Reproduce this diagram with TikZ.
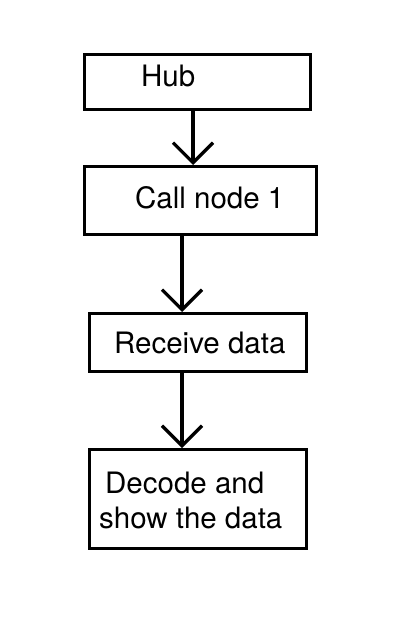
\documentclass[tikz,border=0pt]{standalone}
\usepackage{fontspec}
\setmainfont{TeX Gyre Heros}
\usetikzlibrary{arrows.meta}
\begin{document}
\begin{tikzpicture}[x=1bp,y=-1bp,
  box/.style={draw=black,line width=3.2bp,minimum width=#1,inner sep=0pt,anchor=north west},
  txt/.style={anchor=base west,inner sep=0pt,font=\fontsize{29.6}{35}\selectfont},
  arr/.style={line width=3.2bp,-{Straight Barb[length=20bp,width=40bp,line width=3.2bp]}}]
\useasboundingbox (0,0) rectangle (400,619);
\node[box=226bp,minimum height=55bp] (hub) at (83,53) {};
\node[box=232bp,minimum height=68bp] (call) at (83,165) {};
\node[box=217bp,minimum height=58bp] (recv) at (88,312) {};
\node[box=217bp,minimum height=99bp] (dec) at (88,448) {};
\node[txt] (thub) at (141,87) {Hub};
\node[txt] (tcall) at (135,208) {Call node 1};
\node[txt] (trecv) at (114,353) {Receive data};
\node[txt] (tdec1) at (105,493) {Decode and};
\node[txt] (tdec2) at (99,528) {show the data};
\coordinate (c1) at (193,0);
\coordinate (c2) at (182,0);
\draw[arr] (hub.south -| c1) -- (call.north -| c1);
\draw[arr] (call.south -| c2) -- (recv.north -| c2);
\draw[arr] (recv.south -| c2) -- (dec.north -| c2);
\end{tikzpicture}
\end{document}
